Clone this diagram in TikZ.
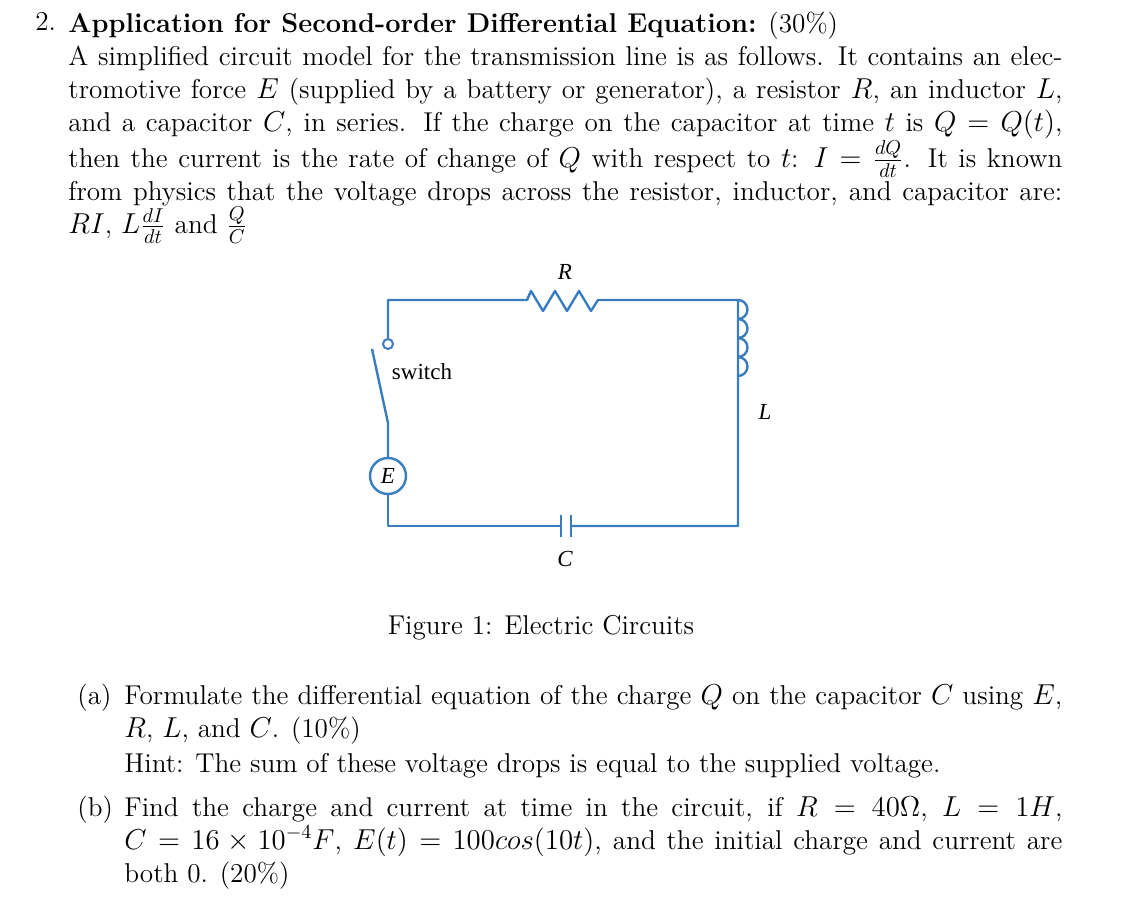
\documentclass[tikz,border=0pt]{standalone}
\usepackage{amsmath,amssymb}
\usepackage{fontspec}
\newfontfamily\circfont{Liberation Serif}
\usetikzlibrary{positioning,calc}
\definecolor{wireblue}{HTML}{3A7DBE}
\begin{document}
\begin{tikzpicture}[x=0.5pt,y=-0.5pt,
    wire/.style={draw=wireblue,line width=1.2pt,line join=round},
    lbl/.style={inner sep=0pt,font=\circfont\fontsize{11.5}{13}\selectfont},
    para/.style={inner sep=0pt,anchor=north west,align=justify,
      font=\fontsize{13.6}{16.5}\selectfont}]
    \useasboundingbox (0,0) rectangle (1125,898);

% Text
    \node[para,anchor=north west] (num) at (35,12) {2.};
    \node[para,anchor=north west] (head) at (68,12)
      {\textbf{Application for Second-order Differential Equation:} (30\%)};
    \node[para,text width=497pt] (intro) at (68,46)
      {A simplified circuit model for the transmission line is as follows. It contains an electromotive force $E$ (supplied by a battery or generator), a resistor $R$, an inductor $L$, and a capacitor $C$, in series. If the charge on the capacitor at time $t$ is $Q=Q(t)$, then the current is the rate of change of $Q$ with respect to $t$: $I=\frac{dQ}{dt}$. It is known from physics that the voltage drops across the resistor, inductor, and capacitor are: $RI$, $L\frac{dI}{dt}$ and $\frac{Q}{C}$};

% Circuit nodes
    \coordinate (tl) at (388,300);
    \coordinate (tr) at (738,300);
    \coordinate (bl) at (388,526);
    \coordinate (br) at (738,526);
    \coordinate (ra) at (527,300);
    \coordinate (rb) at (598,300);
    \coordinate (la) at (738,376);
    \coordinate (lb) at (738,452);
    \coordinate (ca) at (561,526);
    \coordinate (cb) at (571,526);
    \node[draw=wireblue,line width=1pt,circle,minimum size=5pt,inner sep=0pt] (sw) at (388,344) {};
    \coordinate (blade) at (372,349);
    \coordinate (hinge) at (388,423);
    \node[draw=wireblue,line width=1.2pt,circle,minimum size=18pt,inner sep=0pt,lbl,font=\circfont\itshape\fontsize{11.5}{13}\selectfont] (E) at (388,476) {E};

% Wires
    \draw[wire] (sw) -- (tl) -- (ra)
      -- ++(4,-9) -- ++(12,20) -- ++(12,-20) -- ++(12,20) -- ++(12,-20) -- ++(12,20) -- (rb)
      -- (tr) -- (la)
      arc[start angle=-90,end angle=90,radius=4.75pt]
      arc[start angle=-90,end angle=90,radius=4.75pt]
      arc[start angle=-90,end angle=90,radius=4.75pt]
      arc[start angle=-90,end angle=90,radius=4.75pt]
      -- (br) -- (cb);
    \draw[wire] (ca) -- (bl) -- (E);
    \draw[wire] (E) -- (hinge) -- (blade);
    \draw[wire] ($(ca)+(0,-11)$) -- ($(ca)+(0,11)$);
    \draw[wire] ($(cb)+(0,-11)$) -- ($(cb)+(0,11)$);

% Labels
    \node[lbl,font=\circfont\itshape\fontsize{11.5}{13}\selectfont] (rl) at (565,272) {R};
    \node[lbl] (swl) at (422,372) {switch};
    \node[lbl,font=\circfont\itshape\fontsize{11.5}{13}\selectfont] (ll) at (765,412) {L};
    \node[lbl,font=\circfont\itshape\fontsize{11.5}{13}\selectfont] (cl) at (565,559) {C};

    \node[inner sep=0pt,font=\fontsize{13.6}{16.5}\selectfont] (cap) at (541,628) {Figure 1: Electric Circuits};

% Questions
    \node[para] (qa) at (77,684) {(a)};
    \node[para,text width=469pt] (ta) at (124,684)
      {Formulate the differential equation of the charge $Q$ on the capacitor $C$ using $E$, $R$, $L$, and $C$. (10\%)};
    \node[para] (hint) at (124,753) {Hint: The sum of these voltage drops is equal to the supplied voltage.};
    \node[para] (qb) at (77,796) {(b)};
    \node[para,text width=469pt] (tb) at (124,796)
      {Find the charge and current at time in the circuit, if $R=40\Omega$, $L=1H$, $C=16\times10^{-4}F$, $E(t)=100cos(10t)$, and the initial charge and current are both 0. (20\%)};
\end{tikzpicture}
\end{document}
